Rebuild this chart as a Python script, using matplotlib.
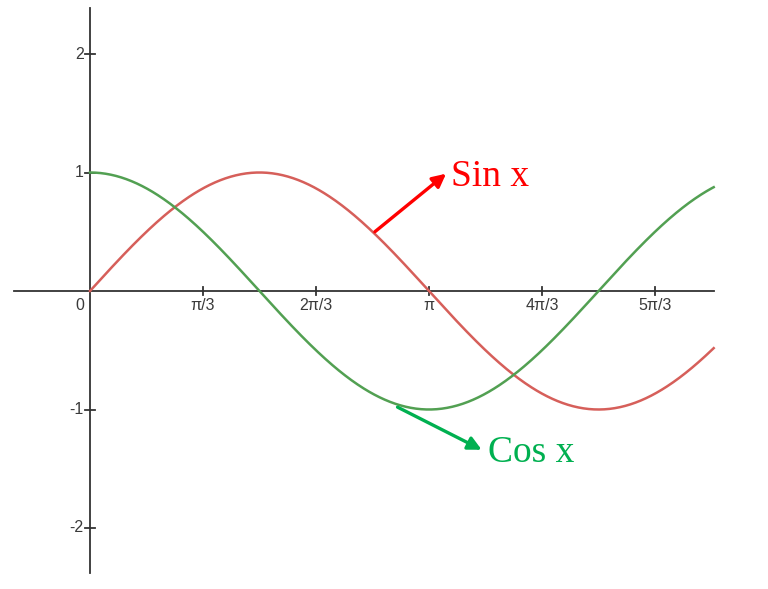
import matplotlib.pyplot as plt
import numpy as np

# x range of the curves and the axes (radians)
x_start = 0.0
x_end = 5.78
axis_x = [-0.70, 5.78]
axis_y = [-2.38, 2.39]

xtick_pos = [np.pi / 3, 2 * np.pi / 3, np.pi, 4 * np.pi / 3, 5 * np.pi / 3]
xtick_labels = ["π/3", "2π/3", "π", "4π/3", "5π/3"]
ytick_pos = [-2, -1, 1, 2]
ytick_labels = ["-2", "-1", "1", "2"]

x = np.linspace(x_start, x_end, 600)
sin_y = np.sin(x)
cos_y = np.cos(x)

fig = plt.figure(figsize=(7.68, 5.89), dpi=100)
ax = fig.add_axes([0, 0, 1, 1])
ax.set_xlim(-90 * np.pi / 339, (768 - 90) * np.pi / 339)
ax.set_ylim(-(589 - 291) / 118.5, 291 / 118.5)
ax.axis("off")

axc = "#333333"
ax.plot(axis_x, [0, 0], color=axc, lw=1.3, zorder=1)
ax.plot([0, 0], axis_y, color=axc, lw=1.3, zorder=1)

ax.plot(x, sin_y, color="#d65f5a", lw=1.8, zorder=3)
ax.plot(x, cos_y, color="#52a052", lw=1.8, zorder=3)

# tick marks and labels
tx = 0.045
ty = 0.03
lab_kw = dict(fontsize=11.5, family="Liberation Sans", color="#3a3a3a")
for p, lab in zip(xtick_pos, xtick_labels):
    ax.plot([p, p], [-ty, ty], color=axc, lw=1.3)
    ax.text(p, -0.06, lab, ha="center", va="top", **lab_kw)
ax.text(-0.09, -0.06, "0", ha="center", va="top", **lab_kw)
for p, lab in zip(ytick_pos, ytick_labels):
    ax.plot([-tx, tx], [p, p], color=axc, lw=1.3)
    ax.text(-0.06, p, lab, ha="right", va="center", **lab_kw)

# labels with arrows
ax.annotate("", xy=(3.30, 0.99), xytext=(2.64, 0.50),
            arrowprops=dict(arrowstyle="-|>", color="#ff0000", lw=2.4,
                            mutation_scale=20, shrinkA=0, shrinkB=0))
ax.text(3.345, 0.886, "Sin x", color="#ff0000", fontsize=27,
        family="Liberation Serif", ha="left", va="baseline")

ax.annotate("", xy=(3.63, -1.34), xytext=(2.85, -0.98),
            arrowprops=dict(arrowstyle="-|>", color="#00b050", lw=2.4,
                            mutation_scale=20, shrinkA=0, shrinkB=0))
ax.text(3.688, -1.443, "Cos x", color="#00b050", fontsize=27,
        family="Liberation Serif", ha="left", va="baseline")

fig.savefig("out.png", dpi=100)
